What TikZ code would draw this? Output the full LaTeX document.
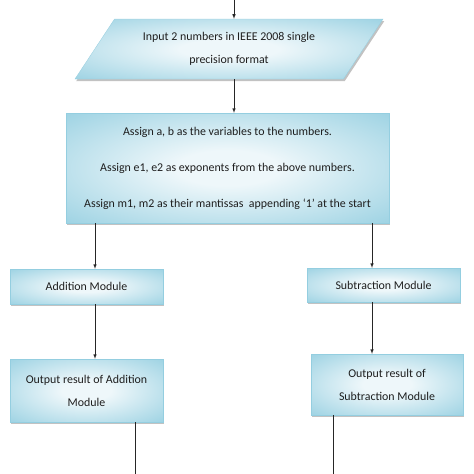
\documentclass[tikz,border=0pt]{standalone}
\usepackage{fontspec}
\setmainfont{Carlito}
\usetikzlibrary{arrows,shapes.geometric,shadows,calc}

\definecolor{boxout}{RGB}{136,201,221}
\definecolor{boxin}{RGB}{238,247,250}
\definecolor{txt}{RGB}{30,30,30}
\pgfdeclareradialshading{boxshade}{\pgfpoint{0bp}{0bp}}{color(0bp)=(boxin); color(8bp)=(boxin); color(43bp)=(boxout); color(75bp)=(boxout)}

\begin{document}
\begin{tikzpicture}[x=1pt,y=-1pt,
        blockbox/.style={rectangle,shading=boxshade,
            draw=boxout!90!white,line width=0.3pt,
            drop shadow={shadow xshift=1.2pt,shadow yshift=-2.2pt,opacity=0.4,fill=black!60},
            text=txt,align=center,font=\fontsize{11.9}{23}\selectfont},
        iobox/.style={blockbox,trapezium,trapezium left angle=40,trapezium right angle=140,
            trapezium stretches body,inner sep=0pt},
        flow/.style={-latex,black!85,line width=0.6pt}]
        \useasboundingbox (0,0) rectangle (474,474);

        % Input and assignment blocks
        \node[iobox,minimum width=308pt,minimum height=60pt] (input) at (229,49)
            {Input 2 numbers in IEEE 2008 single\\precision format};
        \node[blockbox,minimum width=323pt,minimum height=110pt] (assign) at (227.5,168)
            {Assign a, b as the variables to the numbers.\\[13pt]
             Assign e1, e2 as exponents from the above numbers.\\[13pt]
             Assign m1, m2 as their mantissas\ \ appending `1' at the start};

        % Module blocks
        \node[blockbox,minimum width=153pt,minimum height=35pt] (addMod) at (86.5,286.5) {Addition Module};
        \node[blockbox,minimum width=153pt,minimum height=34pt] (subMod) at (383.5,285) {Subtraction Module};

        % Output blocks
        \node[blockbox,minimum width=153pt,minimum height=63pt] (addOut) at (86.5,390.5)
            {Output result of Addition\\Module};
        \node[blockbox,minimum width=152pt,minimum height=61pt] (subOut) at (387,384.5)
            {Output result of\\Subtraction Module};

        % Invisible ends and line positions
        \coordinate (inTop) at (234,0);
        \coordinate (addX) at (95,0);
        \coordinate (subX) at (372,0);
        \coordinate (addEnd) at (135,474);
        \coordinate (subEnd) at (333,474);

        % Arcs between blocks
        \draw[flow] (inTop) -- (inTop |- input.north);
        \draw[flow] (input.south -| inTop) -- (assign.north -| inTop);
        \draw[flow] (assign.south -| addX) -- (addMod.north -| addX);
        \draw[flow] (assign.south -| subX) -- (subMod.north -| subX);
        \draw[flow] (addMod.south -| addX) -- (addOut.north -| addX);
        \draw[flow] (subMod.south -| subX) -- (subOut.north -| subX);

        % Lines leaving the picture
        \draw[black!85,line width=0.6pt] (addOut.south -| addEnd) -- (addEnd);
        \draw[black!85,line width=0.6pt] (subOut.south -| subEnd) -- (subEnd);
\end{tikzpicture}
\end{document}
